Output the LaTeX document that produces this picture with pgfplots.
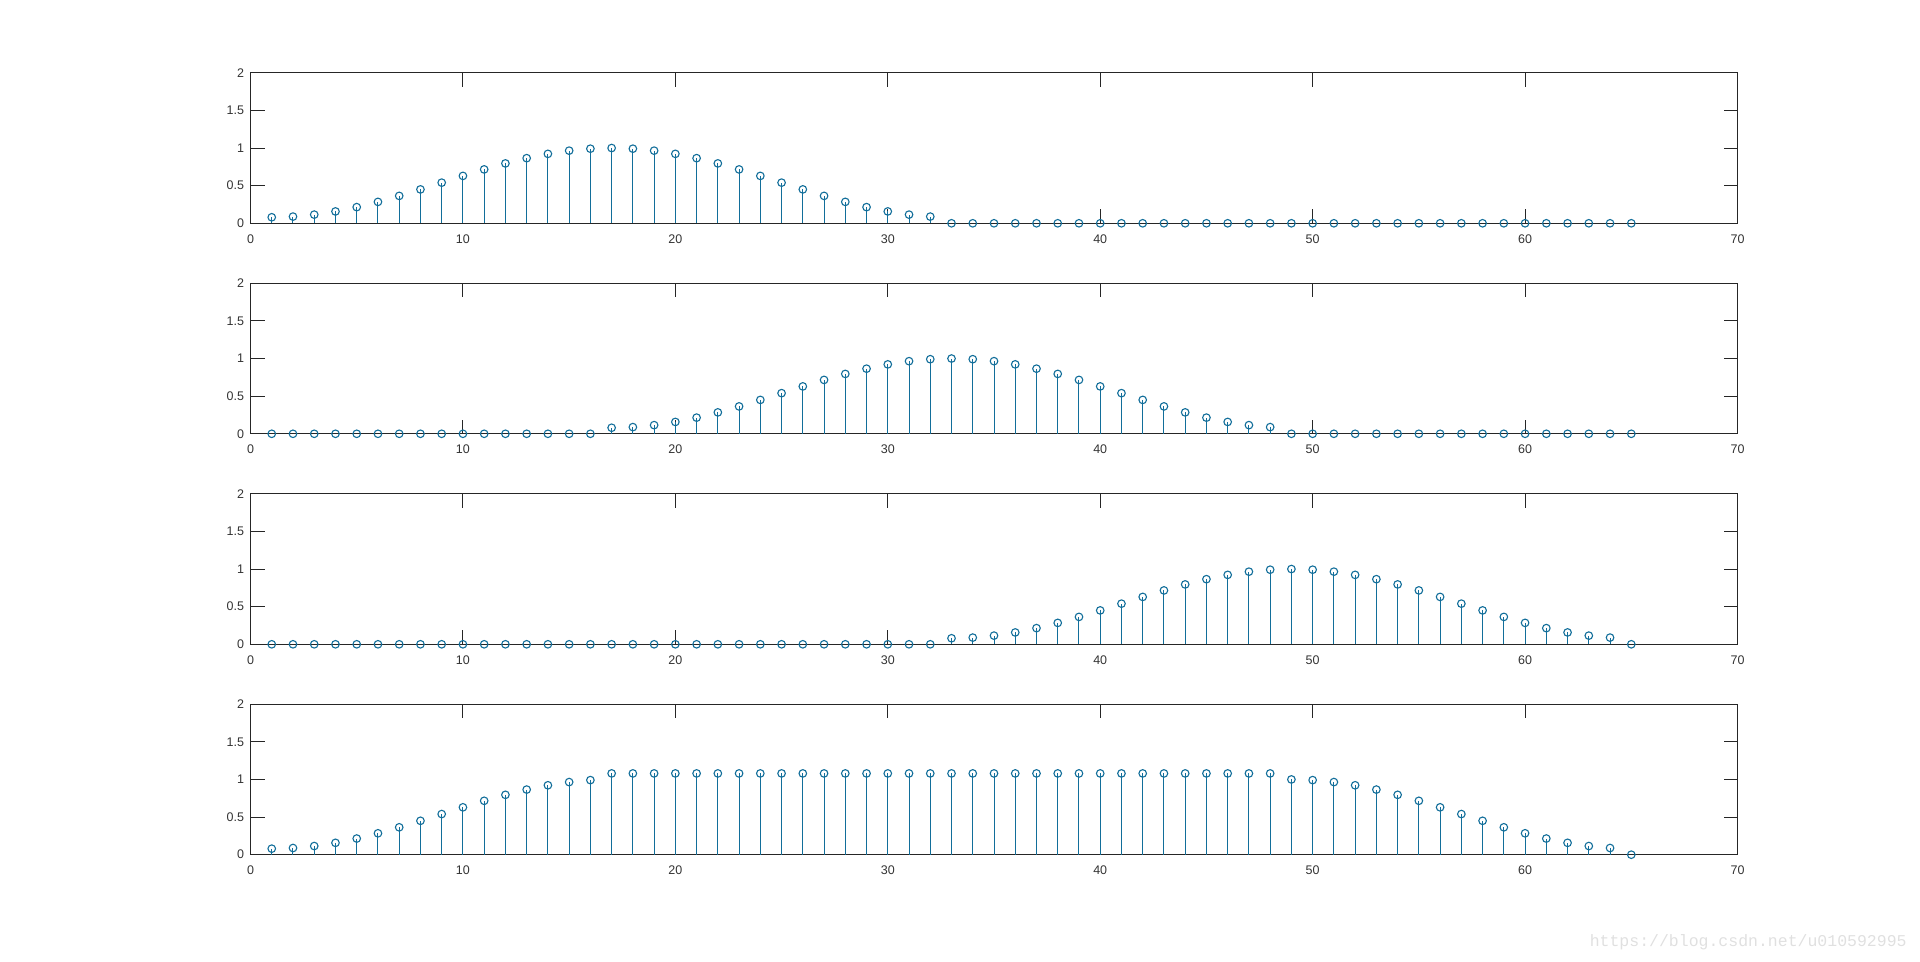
\documentclass[border=0pt]{standalone}
\usepackage{pgfplots}
\pgfplotsset{compat=1.18}
\usepackage{pgfplotstable}
\usepackage{fontspec}
\setmainfont{Liberation Sans}
\newfontfamily\wmfont{Liberation Mono}
\definecolor{stemblue}{HTML}{126E9A}

\pgfplotstableread{
n a b c d
1 0.08 0 0 0.08
2 0.0888 0 0 0.0888
3 0.1150 0 0 0.1150
4 0.1575 0 0 0.1575
5 0.2147 0 0 0.2147
6 0.2844 0 0 0.2844
7 0.3640 0 0 0.3640
8 0.4503 0 0 0.4503
9 0.54 0 0 0.54
10 0.6297 0 0 0.6297
11 0.7160 0 0 0.7160
12 0.7956 0 0 0.7956
13 0.8653 0 0 0.8653
14 0.9225 0 0 0.9225
15 0.9650 0 0 0.9650
16 0.9912 0 0 0.9912
17 1.0 0.08 0 1.08
18 0.9912 0.0888 0 1.08
19 0.9650 0.1150 0 1.08
20 0.9225 0.1575 0 1.08
21 0.8653 0.2147 0 1.08
22 0.7956 0.2844 0 1.08
23 0.7160 0.3640 0 1.08
24 0.6297 0.4503 0 1.08
25 0.54 0.54 0 1.08
26 0.4503 0.6297 0 1.08
27 0.3640 0.7160 0 1.08
28 0.2844 0.7956 0 1.08
29 0.2147 0.8653 0 1.08
30 0.1575 0.9225 0 1.08
31 0.1150 0.9650 0 1.08
32 0.0888 0.9912 0 1.08
33 0 1.0 0.08 1.08
34 0 0.9912 0.0888 1.08
35 0 0.9650 0.1150 1.08
36 0 0.9225 0.1575 1.08
37 0 0.8653 0.2147 1.08
38 0 0.7956 0.2844 1.08
39 0 0.7160 0.3640 1.08
40 0 0.6297 0.4503 1.08
41 0 0.54 0.54 1.08
42 0 0.4503 0.6297 1.08
43 0 0.3640 0.7160 1.08
44 0 0.2844 0.7956 1.08
45 0 0.2147 0.8653 1.08
46 0 0.1575 0.9225 1.08
47 0 0.1150 0.9650 1.08
48 0 0.0888 0.9912 1.08
49 0 0 1.0 1.0
50 0 0 0.9912 0.9912
51 0 0 0.9650 0.9650
52 0 0 0.9225 0.9225
53 0 0 0.8653 0.8653
54 0 0 0.7956 0.7956
55 0 0 0.7160 0.7160
56 0 0 0.6297 0.6297
57 0 0 0.54 0.54
58 0 0 0.4503 0.4503
59 0 0 0.3640 0.3640
60 0 0 0.2844 0.2844
61 0 0 0.2147 0.2147
62 0 0 0.1575 0.1575
63 0 0 0.1150 0.1150
64 0 0 0.0888 0.0888
65 0 0 0 0
}\datatable

\pgfplotsset{
  stemaxis/.style={
    scale only axis,
    width=743.5pt, height=75.25pt,
    anchor=south west,
    xmin=0, xmax=70, ymin=0, ymax=2,
    xtick={0,10,...,70},
    ytick={0,0.5,1,1.5,2},
    tick align=inside,
    xtick pos=both, ytick pos=both,
    xticklabel pos=bottom, yticklabel pos=left,
    major tick length=7pt,
    every tick/.style={black!85, line width=0.5pt},
    axis line style={black!85, line width=0.5pt},
    tick label style={font=\fontsize{6.25}{7}\selectfont, text=black!80},
    /pgf/number format/assume math mode=true,
    xticklabel style={anchor=north, inner sep=0pt, yshift=-5.5pt},
    yticklabel style={anchor=east, inner sep=0pt, xshift=-3pt},
    clip=false,
  },
  stemplot/.style={
    ycomb, color=stemblue, line width=0.5pt,
    mark=o, mark size=1.9pt, mark options={solid, line width=0.55pt, fill=none},
  },
}

\begin{document}
\begin{tikzpicture}
\path[use as bounding box] (0,0) rectangle (960pt,481pt);
\begin{axis}[stemaxis, at={(125.25pt,369.35pt)}]
\addplot[stemplot] table[x=n, y=a] {\datatable};
\end{axis}
\begin{axis}[stemaxis, at={(125.25pt,264.1pt)}]
\addplot[stemplot] table[x=n, y=b] {\datatable};
\end{axis}
\begin{axis}[stemaxis, at={(125.25pt,158.85pt)}]
\addplot[stemplot] table[x=n, y=c] {\datatable};
\end{axis}
\begin{axis}[stemaxis, at={(125.25pt,53.65pt)}]
\addplot[stemplot] table[x=n, y=d] {\datatable};
\end{axis}
\node[anchor=base east, inner sep=0pt, text=black!12, font=\wmfont\fontsize{8.25}{9}\selectfont] at (953.5pt,7.5pt) {https://blog.csdn.net/u010592995};
\end{tikzpicture}
\end{document}
